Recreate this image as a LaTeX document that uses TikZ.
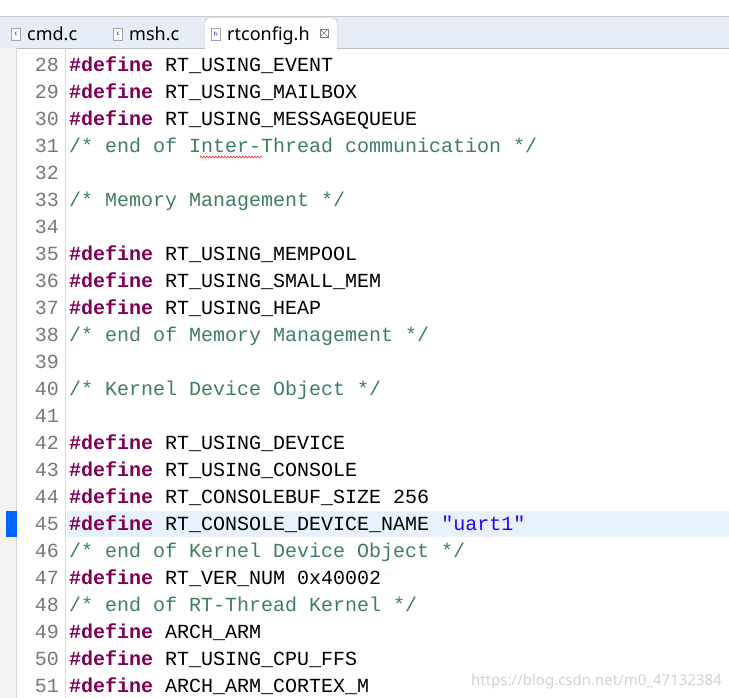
\documentclass[tikz,border=0pt]{standalone}
\usepackage{fontspec}
\setmonofont{Liberation Mono}
\setsansfont{Noto Sans}
\usetikzlibrary{decorations.pathmorphing}
\definecolor{kw}{HTML}{7F0055}
\definecolor{cm}{HTML}{3F7F5F}
\definecolor{st}{HTML}{2A00FF}
\definecolor{ln}{HTML}{787878}
\definecolor{tabbg}{HTML}{E6EDF6}
\definecolor{hl}{HTML}{E8F2FE}
\newcommand{\kd}{\textcolor{kw}{\bfseries\#define}}
\newcommand{\cmt}[1]{\textcolor{cm}{#1}}
\begin{document}
\begin{tikzpicture}[x=1pt,y=-1pt,
  code/.style={anchor=base west,inner sep=0,font=\ttfamily\fontsize{20}{20}\selectfont},
  lnum/.style={anchor=base east,inner sep=0,text=ln,font=\ttfamily\fontsize{20}{20}\selectfont},
  tab/.style={anchor=base west,inner sep=0,font=\sffamily\fontsize{18}{18}\selectfont},
  icon/.style={draw=gray!70,fill=white,minimum width=9pt,minimum height=12pt,inner sep=0,font=\sffamily\bfseries\fontsize{6}{6}\selectfont,text=blue!50!black}]
\useasboundingbox (0,0) rectangle (729,698);
\fill[white] (0,0) rectangle (729,698);
% top strip and tab bar
\fill[tabbg] (0,16) rectangle (729,48);
\draw[gray!40] (0,16) -- (729,16);
\fill[white,draw=gray!50,rounded corners=4pt] (205,48) -- (205,18) -- (337,18) -- (337,48);
\draw[gray!50] (0,48) -- (205,48) (337,48) -- (729,48);
\node[icon] (i1) at (16,34) {c};
\node[tab] (t1) at (27,41) {cmd.c};
\node[icon] (i2) at (118,34) {c};
\node[tab] (t2) at (129,41) {msh.c};
\node[icon] (i3) at (216,34) {h};
\node[tab] (t3) at (227,41) {rtconfig.h};
\node[draw=gray,minimum size=8pt,inner sep=0] (x) at (324,33) {};
\draw[gray] (x.north west) -- (x.south east) (x.north east) -- (x.south west);
% gutter
\fill[gray!10] (0,48) rectangle (16,698);
\draw[gray!30] (16,48) -- (16,698);
\draw[gray!30] (65,48) -- (65,698);
% highlight line 45
\fill[hl] (67,511) rectangle (729,537);
\fill[blue!60!cyan] (6,511) rectangle (17,537);
\foreach \i [count=\k from 0] in {28,...,51}{
  \node[lnum] (n\i) at (59,{65+\k*26.96+7}) {\i};
}
\def\L#1#2{\node[code] (c#1) at (69,{65+(#1-28)*26.96+7}) {#2};}
\L{28}{\kd{} RT\_USING\_EVENT}
\L{29}{\kd{} RT\_USING\_MAILBOX}
\L{30}{\kd{} RT\_USING\_MESSAGEQUEUE}
\L{31}{\cmt{/* end of Inter-Thread communication */}}
\L{33}{\cmt{/* Memory Management */}}
\L{35}{\kd{} RT\_USING\_MEMPOOL}
\L{36}{\kd{} RT\_USING\_SMALL\_MEM}
\L{37}{\kd{} RT\_USING\_HEAP}
\L{38}{\cmt{/* end of Memory Management */}}
\L{40}{\cmt{/* Kernel Device Object */}}
\L{42}{\kd{} RT\_USING\_DEVICE}
\L{43}{\kd{} RT\_USING\_CONSOLE}
\L{44}{\kd{} RT\_CONSOLEBUF\_SIZE 256}
\L{45}{\kd{} RT\_CONSOLE\_DEVICE\_NAME \textcolor{st}{"uart1"}}
\L{46}{\cmt{/* end of Kernel Device Object */}}
\L{47}{\kd{} RT\_VER\_NUM 0x40002}
\L{48}{\cmt{/* end of RT-Thread Kernel */}}
\L{49}{\kd{} ARCH\_ARM}
\L{50}{\kd{} RT\_USING\_CPU\_FFS}
\L{51}{\kd{} ARCH\_ARM\_CORTEX\_M}
% spelling squiggle under "Inter"
\draw[red!80,line width=0.6pt,decorate,decoration={zigzag,amplitude=1pt,segment length=3pt}] (200,157) -- (262,157);
% watermark
\node[anchor=base east,inner sep=0,text=gray!35,font=\sffamily\fontsize{15}{15}\selectfont] (wm) at (722,685) {https://blog.csdn.net/m0\_47132384};
\end{tikzpicture}
\end{document}
